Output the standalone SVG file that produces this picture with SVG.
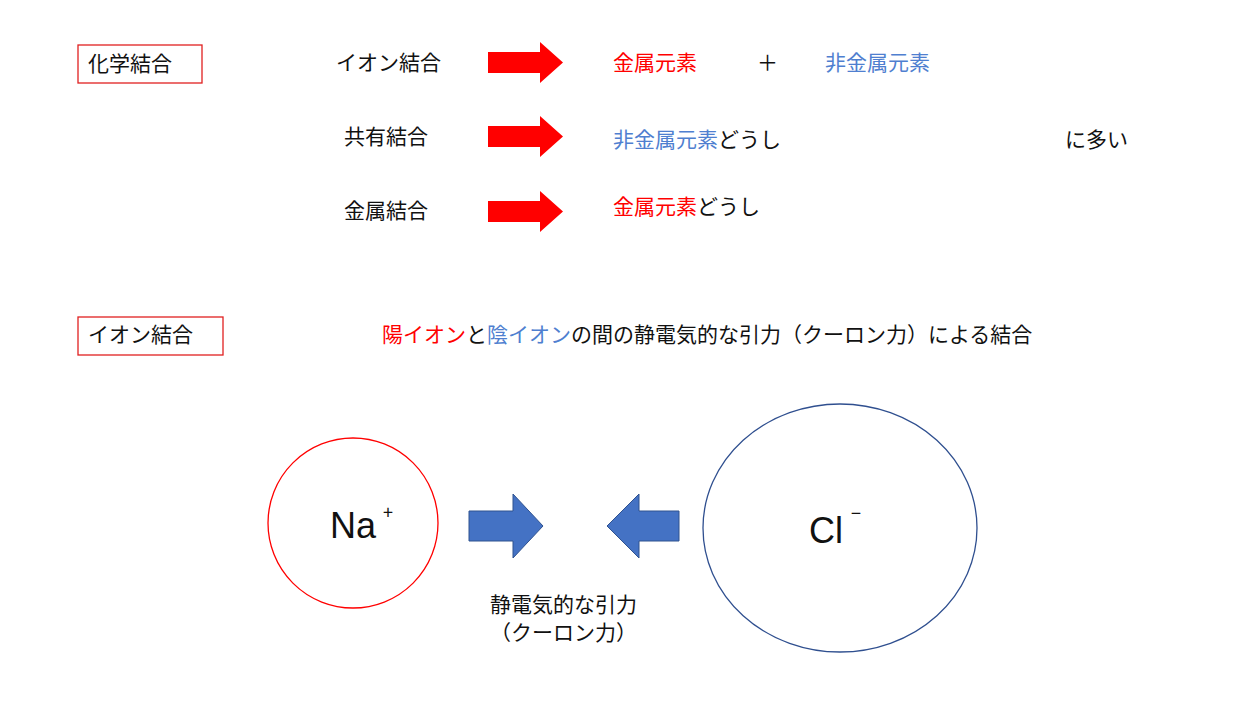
<svg xmlns="http://www.w3.org/2000/svg" width="1249" height="701" viewBox="0 0 1249 701">
<style>
text{font-family:"Noto Sans CJK JP","Liberation Sans",sans-serif;font-size:21px;fill:#111}
.r{fill:#ff0000}.b{fill:#4f7fd0}
.box{fill:none;stroke:#e02020;stroke-width:1.3}
.ra{fill:#ff0000}
.ba{fill:#4472c4;stroke:#2f528f;stroke-width:1}
</style>
<rect width="1249" height="701" fill="#fff"/>
<g id="title1"><rect class="box" x="78" y="45" width="124" height="38"/><text x="88" y="71">化学結合</text></g>
<g id="title2"><rect class="box" x="78" y="317" width="145" height="38"/><text x="88" y="342">イオン結合</text></g>
<g id="rows">
<text x="336" y="70">イオン結合</text>
<text x="344" y="144">共有結合</text>
<text x="344" y="218">金属結合</text>
<text x="613" y="70" class="r">金属元素</text>
<text x="757" y="70">＋</text>
<text x="825" y="70" class="b">非金属元素</text>
<text x="613" y="147"><tspan class="b">非金属元素</tspan>どうし</text>
<text x="613" y="214"><tspan class="r">金属元素</tspan>どうし</text>
<text x="1065" y="147">に多い</text>
<text x="382" y="342"><tspan class="r">陽イオン</tspan>と<tspan class="b">陰イオン</tspan>の間の静電気的な引力（クーロン力）による結合</text>
</g>
<g id="connectors">
<polygon class="ra" points="488,52 540,52 540,42 563,62.5 540,83 540,73 488,73"/>
<polygon class="ra" points="488,126 540,126 540,116 563,136.5 540,157 540,147 488,147"/>
<polygon class="ra" points="488,201 540,201 540,191 563,211.5 540,232 540,222 488,222"/>
<polygon class="ba" points="469,511 513,511 513,494 543,526 513,558 513,541 469,541"/>
<polygon class="ba" points="679,511 639,511 639,494 607,526 639,558 639,541 679,541"/>
</g>
<g id="na"><circle cx="353" cy="523" r="85" fill="none" stroke="#ff0000" stroke-width="1.3"/><text x="330" y="538" style="font-family:'Liberation Sans',sans-serif;font-size:36px">Na</text><text x="383" y="519" style="font-size:18px">+</text></g>
<g id="cl"><ellipse cx="840" cy="528" rx="137" ry="124" fill="none" stroke="#2f4f8f" stroke-width="1.3"/><text x="809" y="543" style="font-family:'Liberation Sans',sans-serif;font-size:36px">Cl</text><text x="851" y="520" style="font-size:18px">−</text></g>
<g id="label"><text x="490" y="612">静電気的な引力</text><text x="490" y="640">（クーロン力）</text></g>
</svg>
